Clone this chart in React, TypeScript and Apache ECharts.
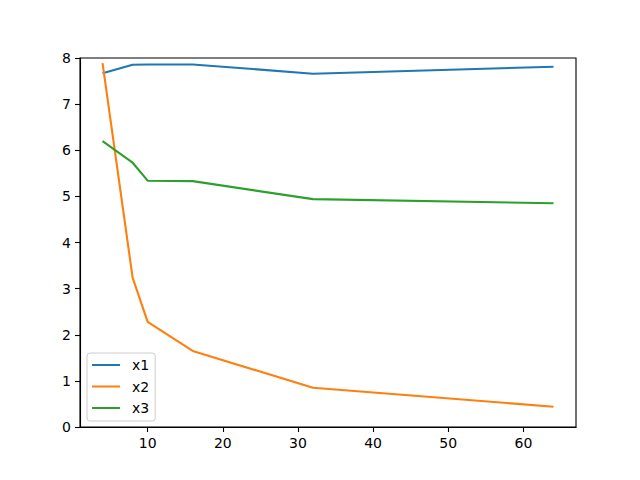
import { useEffect, useRef } from "react";
import * as echarts from "echarts";

const xs = [4, 8, 10, 16, 32, 64];
const x1 = [7.67, 7.855, 7.86, 7.86, 7.66, 7.81];
const x2 = [7.89, 3.24, 2.28, 1.65, 0.85, 0.44];
const x3 = [6.2, 5.73, 5.34, 5.33, 4.94, 4.85];
const names = ["x1", "x2", "x3"];
const colors = ["#1f77b4", "#ff7f0e", "#2ca02c"];
const xTicks = [10, 20, 30, 40, 50, 60];

const font = "DejaVu Sans";

export default function App() {
  const ref = useRef<HTMLDivElement>(null);
  useEffect(() => {
    if (!ref.current) return;
    const chart = echarts.init(ref.current, undefined, { renderer: "svg" });
    const all = [x1, x2, x3];
    chart.setOption({
      animation: false,
      backgroundColor: "#fff",
      grid: {
        left: 80, right: 64, top: 58, bottom: 53,
        show: true, borderColor: "#000", borderWidth: 1.1, backgroundColor: "transparent",
      },
      legend: {
        orient: "vertical",
        left: 87, top: 353,
        data: names,
        icon: "rect",
        itemWidth: 28, itemHeight: 2,
        itemGap: 7.5,
        padding: [5, 6, 6, 5],
        borderColor: "#ccc", borderWidth: 1, borderRadius: 3,
        backgroundColor: "rgba(255,255,255,0.8)",
        textStyle: { color: "#000", fontSize: 14, fontFamily: font, padding: [0, 0, 0, 7] },
      },
      xAxis: {
        type: "value",
        min: 1, max: 67,
        axisLine: { show: true, lineStyle: { color: "#000", width: 1.1 } },
        axisTick: { show: true, length: 5, lineStyle: { color: "#000", width: 1.1 }, customValues: xTicks },
        axisLabel: { color: "#000", fontSize: 14, fontFamily: font, margin: 9, customValues: xTicks },
        splitLine: { show: false },
      },
      yAxis: {
        type: "value",
        min: 0, max: 8, interval: 1,
        axisLine: { show: true, lineStyle: { color: "#000", width: 1.1 } },
        axisTick: { show: true, length: 5, lineStyle: { color: "#000", width: 1.1 } },
        axisLabel: { color: "#000", fontSize: 14, fontFamily: font, margin: 9 },
        splitLine: { show: false },
      },
      series: names.map((n, i) => ({
        name: n,
        type: "line",
        data: xs.map((x, j) => [x, all[i][j]]),
        showSymbol: false,
        symbol: "none",
        color: colors[i],
        lineStyle: { color: colors[i], width: 2.1 },
      })),
    });
    return () => chart.dispose();
  }, []);
  return <div ref={ref} style={{ position: "absolute", left: 0, top: 0, width: 640, height: 480 }} />;
}
